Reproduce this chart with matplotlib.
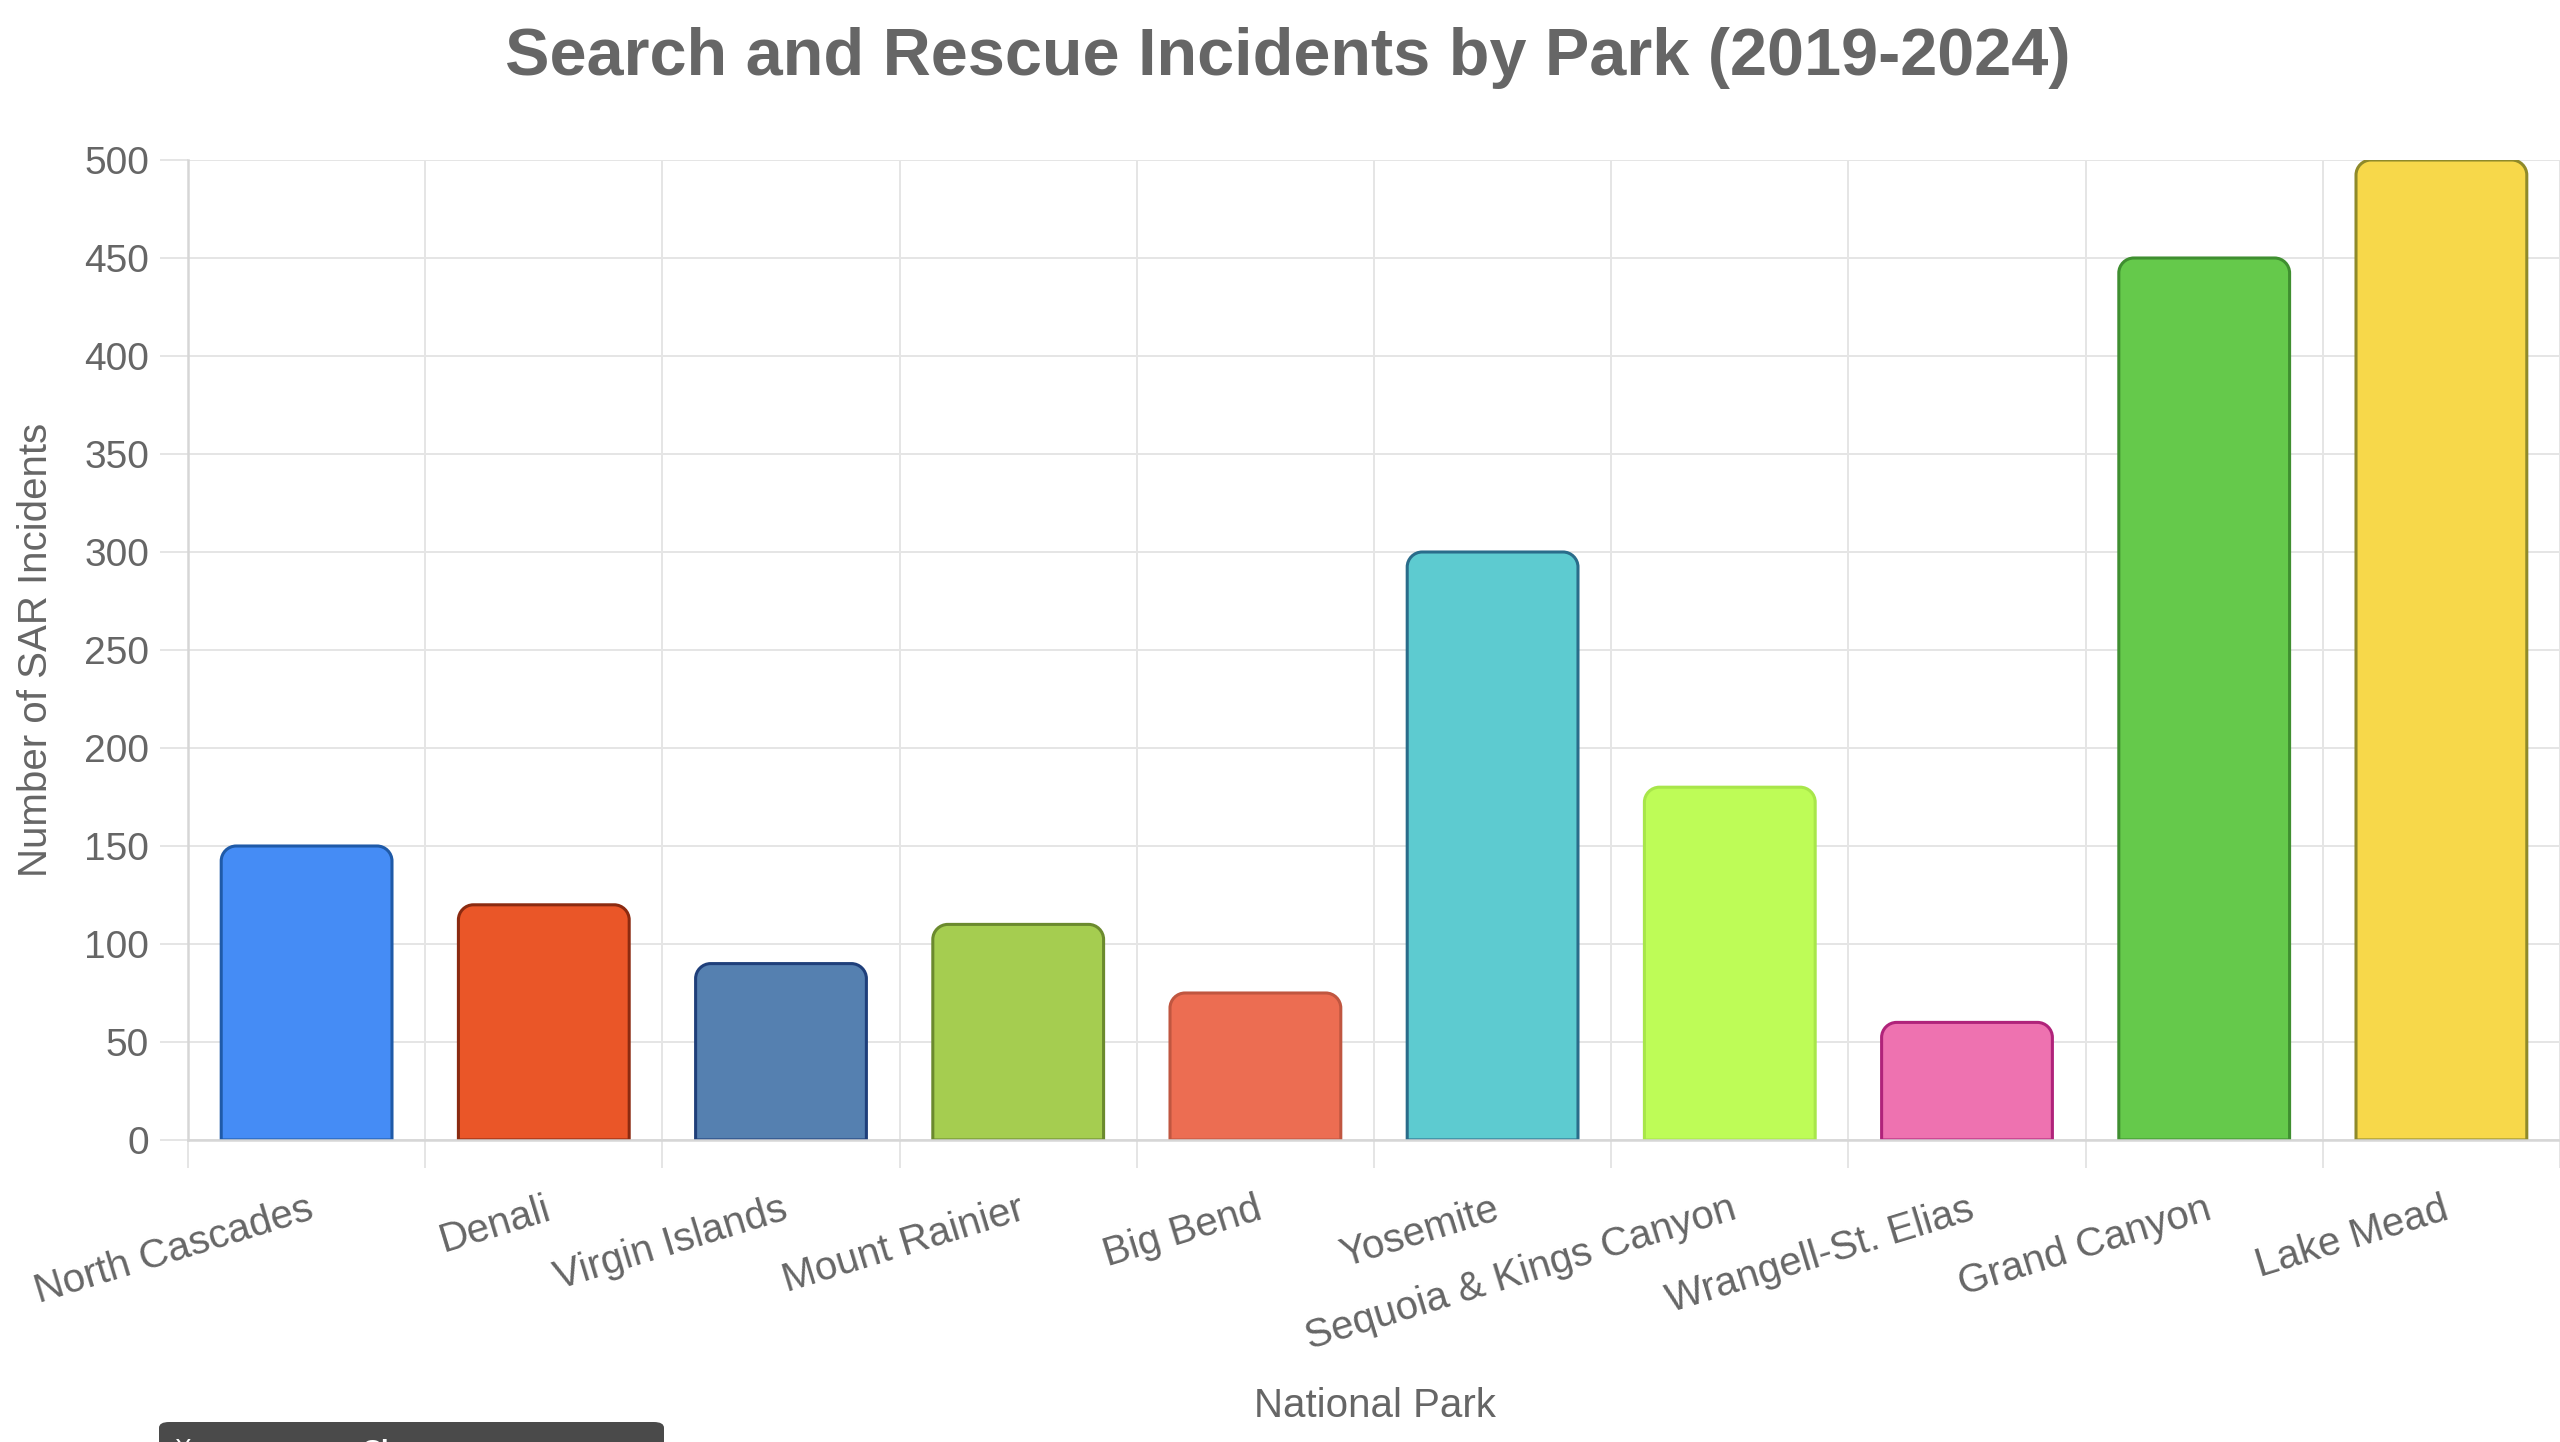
import matplotlib
matplotlib.use("Agg")
import matplotlib.pyplot as plt
import numpy as np
from matplotlib.path import Path
from matplotlib.patches import PathPatch, FancyBboxPatch

plt.rcParams['font.family'] = ['Liberation Sans', 'DejaVu Sans']

# data
parks = ["North Cascades", "Denali", "Virgin Islands", "Mount Rainier", "Big Bend",
         "Yosemite", "Sequoia & Kings Canyon", "Wrangell-St. Elias", "Grand Canyon", "Lake Mead"]
incidents = [150, 120, 90, 110, 75, 300, 180, 60, 450, 500]
fill_colors = ["#458CF5", "#EA5628", "#5580B0", "#A5CD50", "#EC6D52",
               "#5DCBD0", "#BEFC57", "#EE72B0", "#65C94B", "#F7D84A"]
edge_colors = ["#1F5AA8", "#8B2A10", "#1F3F7A", "#6B8A2E", "#C05640",
               "#2A6C8A", "#A8E64A", "#B0237A", "#3F8F30", "#8F8A2A"]

TXT = "#666666"
GRID = "#e5e5e5"
W, H = 2560, 1442

fig = plt.figure(figsize=(25.6, 14.42), dpi=100)
ax = fig.add_axes([188 / W, 1 - 1140 / H, (W - 188) / W, 980 / H])

x = np.arange(len(parks))
bar_w = 0.72
ax.set_xlim(-0.5, len(parks) - 0.5)
ax.set_ylim(0, 500)

# rounded-top bars, radius ~15px converted to data units
px_x = ax.get_position().width * W / len(parks)
px_y = ax.get_position().height * H / 500
rx, ry = 15 / px_x, 15 / px_y
k = 0.55  # bezier circle constant


def rounded_bar(x0, w, h):
    verts = [(x0, 0), (x0, h - ry),
             (x0, h - ry + k * ry), (x0 + rx - k * rx, h), (x0 + rx, h),
             (x0 + w - rx, h),
             (x0 + w - rx + k * rx, h), (x0 + w, h - ry + k * ry), (x0 + w, h - ry),
             (x0 + w, 0), (x0, 0)]
    codes = [Path.MOVETO, Path.LINETO,
             Path.CURVE4, Path.CURVE4, Path.CURVE4,
             Path.LINETO,
             Path.CURVE4, Path.CURVE4, Path.CURVE4,
             Path.LINETO, Path.CLOSEPOLY]
    return Path(verts, codes)


for xi, val, fc, ec in zip(x, incidents, fill_colors, edge_colors):
    p = PathPatch(rounded_bar(xi - bar_w / 2, bar_w, val), facecolor=fc,
                  edgecolor=ec, linewidth=2.2, zorder=3)
    ax.add_patch(p)

# axes styling
for s in ["top", "right"]:
    ax.spines[s].set_visible(False)
for s in ["left", "bottom"]:
    ax.spines[s].set_color("#d6d6d6")
    ax.spines[s].set_linewidth(1.8)
    ax.spines[s].set_zorder(4)

ax.set_yticks(np.arange(0, 501, 50))
ax.tick_params(axis="y", length=20, width=1.4, color=GRID, pad=8,
               labelsize=28, labelcolor=TXT)
ax.yaxis.grid(True, color=GRID, linewidth=1.4)

ax.set_xticks(x)
ax.set_xticklabels(parks, rotation=17, ha="right", rotation_mode="anchor")
ax.set_xticks(np.arange(-0.5, len(parks) + 0.5, 1), minor=True)
ax.tick_params(axis="x", which="major", length=0, pad=36, labelsize=29, labelcolor=TXT)
ax.tick_params(axis="x", which="minor", length=20, width=1.4, color=GRID)
ax.xaxis.grid(True, which="minor", color=GRID, linewidth=1.4)
ax.set_axisbelow(True)

fig.text(0.503, 1 - 58 / H, "Search and Rescue Incidents by Park (2019-2024)",
         ha="center", va="center", fontsize=48, fontweight="bold", color=TXT)
fig.text(36 / W, 1 - 650 / H, "Number of SAR Incidents", rotation=90,
         ha="center", va="center", fontsize=29, color=TXT)
fig.text(1375 / W, 1 - 1406 / H, "National Park", ha="center", va="center",
         fontsize=29, color=TXT)

# browser notification strip cut off at the bottom edge (as in the screenshot)
fig.patches.append(FancyBboxPatch((159 / W, -0.02), 505 / W, 0.02 + 20 / H,
                                  boxstyle="round,pad=0,rounding_size=0.004",
                                  transform=fig.transFigure, facecolor="#4a4a4a",
                                  edgecolor="none", figure=fig))
fig.text(183 / W, 1 - 1450 / H, "X", ha="center", va="center", fontsize=18, color="white")
fig.text(414 / W, 1 - 1452 / H, "Chrome", ha="center", va="center", fontsize=20,
         color="white", fontweight="bold")

fig.savefig("out.png", dpi=100)
